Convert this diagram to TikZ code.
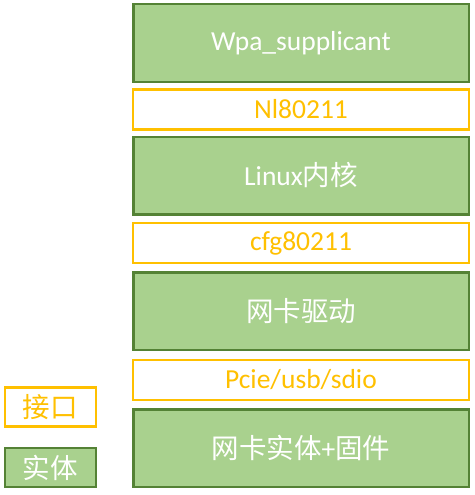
\documentclass[tikz,border=0pt]{standalone}
\usepackage{fontspec}
\setmainfont{Carlito}
\newfontfamily\cjk{Noto Sans CJK SC}
\usetikzlibrary{positioning}
\definecolor{entfill}{HTML}{A9D18E}
\definecolor{entdraw}{HTML}{548235}
\definecolor{ifdraw}{HTML}{FFC000}

\begin{document}
\begin{tikzpicture}[x=1pt,y=-1pt,
            entity/.style={draw=entdraw,fill=entfill,line width=2.5pt,text=white,
                minimum width=335.5pt,minimum height=77.5pt,inner sep=0pt,
                font=\fontsize{27.5}{30}\selectfont},
            iface/.style={draw=ifdraw,fill=white,line width=2.2pt,text=ifdraw,
                minimum width=336pt,minimum height=40pt,inner sep=0pt,
                font=\fontsize{27.5}{30}\selectfont},
            legend/.style={minimum width=91pt,minimum height=39pt}]
            \useasboundingbox (0,0) rectangle (474,495);
            \draw (301,43) node[entity] (wpa) {Wpa\_supplicant};
            \draw (301,109.5) node[iface] (nl) {Nl80211};
            \draw (301,175.5) node[entity] (kernel) {Linux{\cjk 内核}};
            \draw (301,243) node[iface] (cfg) {cfg80211};
            \draw (301,311) node[entity] (driver) {{\cjk 网卡驱动}};
            \draw (301,380) node[iface] (bus) {Pcie/usb/sdio};
            \draw (301,448) node[entity] (card) {{\cjk 网卡实体}+{\cjk 固件}};
            % legend
            \draw (50.5,407) node[iface,legend] (ifkey) {{\cjk 接口}};
            \draw (50.5,467.5) node[entity,legend] (entkey) {{\cjk 实体}};
        \end{tikzpicture}
\end{document}
